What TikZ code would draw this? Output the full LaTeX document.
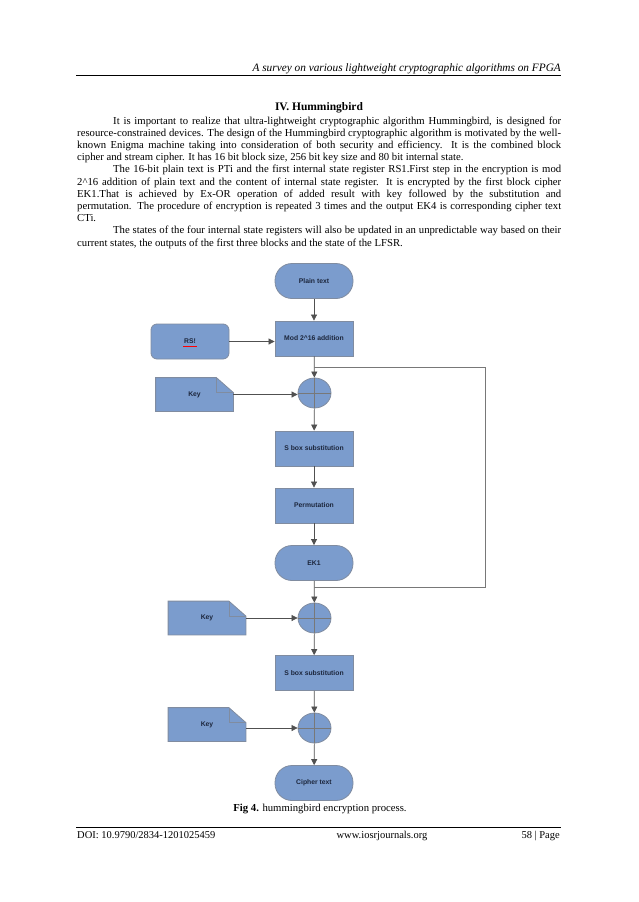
\documentclass[tikz,border=0pt]{standalone}
\usepackage{fontspec}
\setmainfont{Liberation Serif}
\newfontfamily\nodefont{Liberation Sans}
\usetikzlibrary{arrows.meta,shapes.geometric,backgrounds}
\definecolor{boxblue}{RGB}{123,156,205}
\definecolor{boxedge}{RGB}{128,140,160}
\definecolor{boxtext}{RGB}{28,38,60}
\definecolor{arrowgray}{RGB}{80,80,80}
\definecolor{linegray}{RGB}{120,120,120}
\newcommand{\jline}[1]{\makebox[484pt][s]{#1}}
\newcommand{\iline}[1]{\makebox[448pt][s]{#1}}
\tikzset{
  txt/.style={anchor=base west,inner sep=0pt,font=\fontsize{10.7}{12}\selectfont},
  fc/.style={draw=boxedge,line width=0.8pt,fill=boxblue,text=boxtext,
    font=\nodefont\bfseries\fontsize{6.8}{8}\selectfont,inner sep=0pt,
    minimum width=78pt,minimum height=35pt},
  stadium/.style={fc,rounded corners=17pt},
  procbox/.style={fc},
  rsbox/.style={fc,rounded corners=6pt},
  keybox/.style={fc,draw=none,fill=none,minimum width=77pt,minimum height=33pt},
  notefill/.style={draw=boxedge,line width=0.8pt,fill=boxblue},
  xorc/.style={draw=boxedge,line width=0.8pt,fill=boxblue,ellipse,
    minimum width=33pt,minimum height=30pt,inner sep=0pt},
  flow/.style={draw=arrowgray,line width=0.7pt,-{Triangle[length=6pt,width=6pt]}},
  fb/.style={draw=linegray,line width=0.7pt},
  crossl/.style={draw=linegray,line width=0.5pt}
}
\begin{document}
\begin{tikzpicture}[x=1pt,y=-1pt]
\useasboundingbox (0,0) rectangle (638,902);
% header
\node[anchor=base east,inner sep=0pt,font=\fontsize{11.3}{12}\selectfont\itshape] (hdr) at (561,71) {A survey on various lightweight cryptographic algorithms on FPGA};
\coordinate (hl1) at (76,75); \coordinate (hl2) at (561,75);
\draw[line width=0.8pt] (hl1) -- (hl2);
% title
\node[anchor=base,inner sep=0pt,font=\fontsize{11.5}{12}\selectfont\bfseries] (title) at (319,110) {IV. Hummingbird};
% paragraphs
\node[txt] (l1) at (113,124) {\iline{It is important to realize that ultra-lightweight cryptographic algorithm Hummingbird, is designed for}};
\node[txt] (l2) at (77,136.2) {\jline{resource-constrained devices. The design of the Hummingbird cryptographic algorithm is motivated by the well-}};
\node[txt] (l3) at (77,148.4) {\jline{known Enigma machine taking into consideration of both security and efficiency. It is the combined block}};
\node[txt] (l4) at (77,160.6) {cipher and stream cipher. It has 16 bit block size, 256 bit key size and 80 bit internal state.};
\node[txt] (l5) at (113,172.8) {\iline{The 16-bit plain text is PTi and the first internal state register RS1.First step in the encryption is mod}};
\node[txt] (l6) at (77,185) {\jline{2\textasciicircum16 addition of plain text and the content of internal state register. It is encrypted by the first block cipher}};
\node[txt] (l7) at (77,197.2) {\jline{EK1.That is achieved by Ex-OR operation of added result with key followed by the substitution and}};
\node[txt] (l8) at (77,209.4) {\jline{permutation. The procedure of encryption is repeated 3 times and the output EK4 is corresponding cipher text}};
\node[txt] (l9) at (77,221.6) {CTi.};
\node[txt] (l10) at (113,233.8) {\iline{The states of the four internal state registers will also be updated in an unpredictable way based on their}};
\node[txt] (l11) at (77,246) {current states, the outputs of the first three blocks and the state of the LFSR.};
% flowchart nodes
\node[stadium] (pt) at (314,281) {Plain text};
\node[procbox] (mod) at (314,338.5) {Mod 2\textasciicircum16 addition};
\node[rsbox] (rs) at (190,341.5) {RS!};
\node[xorc] (x1) at (314.5,393) {};
\node[keybox] (k1) at (194.5,394.5) {Key};
\node[procbox] (s1) at (314,448.5) {S box substitution};
\node[procbox] (perm) at (314,505.5) {Permutation};
\node[stadium] (ek1) at (314,563) {EK1};
\node[xorc] (x2) at (314.5,618) {};
\node[keybox] (k2) at (207,618) {Key};
\node[procbox] (s2) at (314,673) {S box substitution};
\node[keybox] (k3) at (207,724.5) {Key};
\node[xorc] (x3) at (314.5,728) {};
\node[stadium] (ct) at (314,783) {Cipher text};
% note shapes behind key labels
\begin{scope}[on background layer]
\foreach \k in {k1,k2,k3}{
  \draw[notefill] (\k.south west) -- (\k.south east) -- ([yshift=-15pt]\k.north east) -- ([xshift=-17pt]\k.north east) -- (\k.north west) -- cycle;
  \draw[draw=boxedge,line width=0.6pt] ([xshift=-17pt]\k.north east) -- ([xshift=-17pt,yshift=-15pt]\k.north east) -- ([yshift=-15pt]\k.north east);
}
\end{scope}
% red spell-check underline under RS!
\coordinate (rsu1) at (183,346.5); \coordinate (rsu2) at (197,346.5);
\draw[red,line width=0.6pt] (rsu1) -- (rsu2);
% crosses in XOR circles
\foreach \c in {x1,x2,x3}{
  \draw[crossl] (\c.north) -- (\c.south);
  \draw[crossl] (\c.west) -- (\c.east);
}
% connectors
\draw[flow] (pt) -- (mod);
\draw[flow] (rs.east) -- (rs.east -| mod.west);
\draw[flow] (mod) -- (x1);
\draw[flow] (k1.east) -- (k1.east -| x1.west);
\draw[flow] (x1) -- (s1);
\draw[flow] (s1) -- (perm);
\draw[flow] (perm) -- (ek1);
\draw[flow] (ek1) -- (x2);
\draw[flow] (k2.east) -- (k2.east -| x2.west);
\draw[flow] (x2) -- (s2);
\draw[flow] (s2) -- (x3);
\draw[flow] ([yshift=-3.5pt]k3.east) -- ([yshift=-3.5pt]k3.east -| x3.west);
\draw[flow] (x3) -- (ct);
% feedback loop
\coordinate (j1) at (314,367);
\coordinate (fb1) at (485,367);
\coordinate (fb2) at (485,587);
\coordinate (j2) at (314,587);
\draw[fb] (j1) -- (fb1) -- (fb2) -- (j2);
% caption
\node[anchor=base,inner sep=0pt,font=\fontsize{10.7}{12}\selectfont] (cap) at (320,811) {\textbf{Fig 4.} hummingbird encryption process.};
% footer
\coordinate (fl1) at (76,827); \coordinate (fl2) at (561,827);
\draw[line width=0.6pt] (fl1) -- (fl2);
\node[anchor=base west,inner sep=0pt,font=\fontsize{10.5}{12}\selectfont] (doi) at (77,838) {DOI: 10.9790/2834-1201025459};
\node[anchor=base,inner sep=0pt,font=\fontsize{10.5}{12}\selectfont] (www) at (382,838) {www.iosrjournals.org};
\node[anchor=base east,inner sep=0pt,font=\fontsize{10.5}{12}\selectfont] (pg) at (560,838) {58 | Page};
\end{tikzpicture}
\end{document}
